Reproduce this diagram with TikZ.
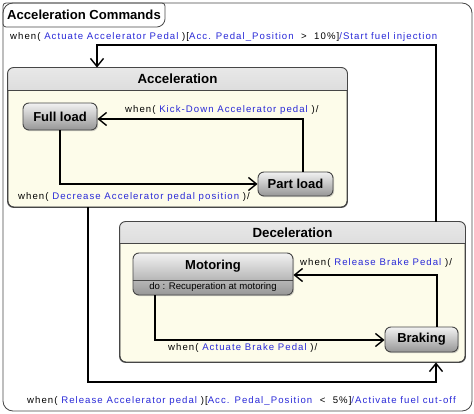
\documentclass[tikz,border=0pt]{standalone}
\usepackage{fontspec}
\setmainfont{Liberation Sans}
\usetikzlibrary{arrows.meta,shadows}
\definecolor{tblue}{RGB}{40,40,215}
\definecolor{bodyyel}{RGB}{253,252,234}
\definecolor{hdrtop}{RGB}{232,232,232}
\definecolor{hdrbot}{RGB}{165,165,165}
\definecolor{sttop}{RGB}{242,242,242}
\definecolor{stbot}{RGB}{150,150,150}
\definecolor{edge}{RGB}{70,70,70}
\newcommand{\bl}[1]{\textcolor{tblue}{#1}}
\begin{document}
\begin{tikzpicture}[x=1pt,y=-1pt,
  tr/.style={line width=1.6pt,-{Straight Barb[length=8pt,width=13pt,line width=1.4pt]}},
  lbl/.style={anchor=west,inner sep=0pt,font=\fontsize{9.6}{11}\selectfont\addfontfeature{LetterSpace=11}},
  comp/.style={rectangle,rounded corners=6pt,draw=edge,line width=0.9pt,fill=bodyyel,inner sep=0pt},
  hdr/.style={top color=hdrtop,bottom color=hdrbot},
  simple/.style={rectangle,rounded corners=6pt,draw=edge,line width=0.9pt,top color=sttop,bottom color=stbot,inner sep=0pt,
    drop shadow={opacity=0.35,shadow xshift=1.2pt,shadow yshift=-1.2pt},font=\bfseries\fontsize{13}{15}\selectfont},
  ttl/.style={inner sep=0pt,font=\bfseries\fontsize{13.3}{15}\selectfont}]
\useasboundingbox (0,0) rectangle (474,414);
% outer frame
\draw[line width=0.8pt,draw=edge,rounded corners=10pt] (3,3) -- (472,3) -- (472,411) -- (3,411) -- cycle;
\draw[line width=0.8pt,draw=edge,rounded corners=3pt] (3,27) -- (3,3) -- (165,3) -- (165,22) -- (160,27) -- cycle;
\node[anchor=west,inner sep=0pt,font=\bfseries\fontsize{13.1}{15}\selectfont] (frt) at (7,15) {Acceleration Commands};

% composite: Acceleration
\node[comp,minimum width=339pt,minimum height=139pt] (acc) at (177.5,137.5) {};
\begin{scope}
\clip (acc.north west) rectangle (347,90);
\fill[hdr,rounded corners=6pt] (acc.north west) rectangle (acc.south east);
\end{scope}
\draw[draw=edge,line width=0.9pt,rounded corners=6pt] (acc.north west) rectangle (acc.south east);
\draw[draw=edge,line width=0.6pt] (acc.west |- 0,90) -- (acc.east |- 0,90);
\node[ttl] (acct) at (177.5,78.5) {Acceleration};

% composite: Deceleration
\node[comp,minimum width=345pt,minimum height=140pt] (dec) at (292.5,292) {};
\begin{scope}
\clip (dec.north west) rectangle (465,243);
\fill[hdr,rounded corners=6pt] (dec.north west) rectangle (dec.south east);
\end{scope}
\draw[draw=edge,line width=0.9pt,rounded corners=6pt] (dec.north west) rectangle (dec.south east);
\draw[draw=edge,line width=0.6pt] (dec.west |- 0,243) -- (dec.east |- 0,243);
\node[ttl] (dect) at (292.5,232.5) {Deceleration};

% simple states
\node[simple,minimum width=74pt,minimum height=27pt] (fl) at (60,116.5) {Full load};
\node[simple,minimum width=75pt,minimum height=24pt] (pl) at (295.5,184) {Part load};
\node[simple,minimum width=73pt,minimum height=25pt] (br) at (421.5,339.5) {Braking};
\node[simple,minimum width=160pt,minimum height=42pt] (mo) at (213,274) {};
\draw[draw=edge,line width=0.6pt] (mo.west |- 0,280) -- (mo.east |- 0,280);
\node[ttl,font=\bfseries\fontsize{13}{15}\selectfont] (mot) at (213,266) {Motoring};
\node[inner sep=0pt,font=\fontsize{9.6}{11}\selectfont] (mod) at (213,287.5) {do : Recuperation at motoring};

% connectors
\coordinate (c1) at (436,45);
\coordinate (c2) at (97,45);
\draw[tr] (dec.north -| c1) -- (c1) -- (c2) -- (c2 |- acc.north);
\coordinate (c3) at (88,382);
\coordinate (c4) at (436,382);
\draw[tr] (acc.south -| c3) -- (c3) -- (c4) -- (c4 |- dec.south);
\coordinate (c5) at (303,119);
\draw[tr] (pl.north -| c5) -- (c5) -- (fl.east |- c5);
\draw[tr] (fl.south) -- (fl.south |- pl.west) -- (pl.west);
\coordinate (c6) at (437,275);
\draw[tr] (br.north -| c6) -- (c6) -- (mo.east |- c6);
\coordinate (c7) at (155,340);
\draw[tr] (mo.south -| c7) -- (c7) -- (br.west |- c7);

% labels
\node[lbl] (l1) at (10,37) {when(~\bl{Actuate Accelerator Pedal}~)[\bl{Acc. Pedal\_Position}~ > ~10\%]\bl{/Start fuel injection}};
\node[lbl] (l2) at (27,401) {when(~\bl{Release Accelerator pedal}~)[\bl{Acc. Pedal\_Position}~ < ~5\%]\bl{/Activate fuel cut-off}};
\node[lbl] (l3) at (125,110) {when(~\bl{Kick-Down Accelerator pedal}~)/};
\node[lbl] (l4) at (18,197) {when(~\bl{Decrease Accelerator pedal position}~)/};
\node[lbl] (l5) at (300,263) {when(~\bl{Release Brake Pedal}~)/};
\node[lbl] (l6) at (168,348) {when(~\bl{Actuate Brake Pedal}~)/};
\end{tikzpicture}
\end{document}
